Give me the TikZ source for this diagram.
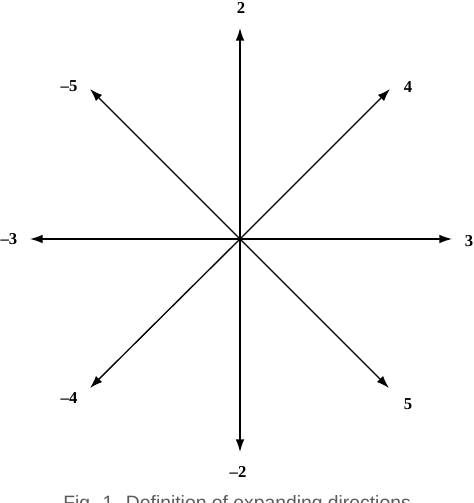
\documentclass[tikz,border=0pt]{standalone}
\usepackage{fontspec}
\setmainfont{Liberation Serif}
\newfontfamily\capfont{Liberation Sans}
\usetikzlibrary{arrows.meta}
\definecolor{capgray}{RGB}{90,90,90}

\begin{document}
\begin{tikzpicture}[x=0.75pt,y=0.75pt,yscale=-1,xscale=1,
  dirarrow/.style={line width=1pt,-{Latex[length=9.5pt,width=6.5pt]}},
  dirlabel/.style={font=\fontsize{12.5}{14}\selectfont\bfseries}]
%set diagram size
\useasboundingbox (0,0) rectangle (474,503);

% Coordinates
\coordinate (c) at (240,239);
\coordinate (tip2) at (240,28);
\coordinate (tipm2) at (240,452);
\coordinate (tip3) at (452,239);
\coordinate (tipm3) at (30,239);
\coordinate (tip4) at (390,89);
\coordinate (tipm4) at (90,388);
\coordinate (tip5) at (389,388);
\coordinate (tipm5) at (90,89);

%Straight Lines
\draw [dirarrow] (c) -- (tip2) ;
\draw [dirarrow] (c) -- (tipm2) ;
\draw [dirarrow] (c) -- (tip3) ;
\draw [dirarrow] (c) -- (tipm3) ;
\draw [dirarrow] (c) -- (tip4) ;
\draw [dirarrow] (c) -- (tipm4) ;
\draw [dirarrow] (c) -- (tip5) ;
\draw [dirarrow] (c) -- (tipm5) ;

% Text Node
\node [dirlabel] (l2) at (241,8) {2};
% Text Node
\node [dirlabel] (lm2) at (238,472) {--2};
% Text Node
\node [dirlabel] (l3) at (469,241) {3};
% Text Node
\node [dirlabel] (lm3) at (9,239) {--3};
% Text Node
\node [dirlabel] (l4) at (408,87) {4};
% Text Node
\node [dirlabel] (lm4) at (69,398) {--4};
% Text Node
\node [dirlabel] (l5) at (408,404) {5};
% Text Node
\node [dirlabel] (lm5) at (69,86) {--5};

% Caption
\node [anchor=base, text=capgray, font=\capfont\fontsize{14.5}{16}\selectfont] (cap) at (237,509) {Fig. 1. Definition of expanding directions};

\end{tikzpicture}
\end{document}
